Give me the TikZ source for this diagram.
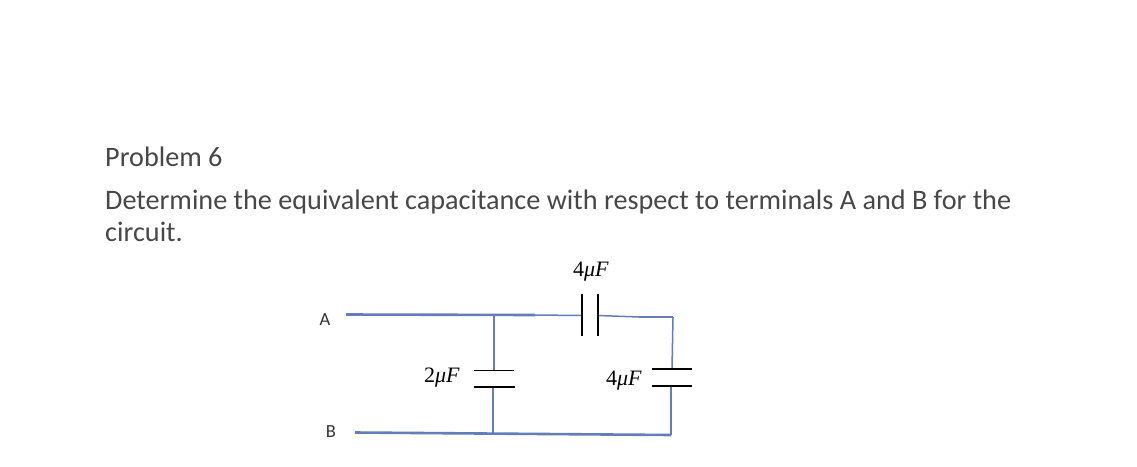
\documentclass[tikz,border=0pt]{standalone}
\usepackage{fontspec}
\setmainfont{Carlito}
\newfontfamily\valfont{Liberation Serif}
\definecolor{wireblue}{RGB}{98,125,184}
\tikzset{
  heading/.style={anchor=base west,inner sep=0pt,font=\fontsize{28.2}{32}\selectfont,text=black!72},
  terminal/.style={inner sep=0pt,font=\fontsize{18.5}{20}\selectfont,text=black!80},
  capval/.style={inner sep=0pt,font=\valfont\fontsize{22}{24}\selectfont},
  wire/.style={draw=wireblue,line width=1.5pt},
  thickwire/.style={draw=wireblue,line width=2.6pt},
  plate/.style={draw=black,line width=1.8pt}
}
\begin{document}
\begin{tikzpicture}[x=1pt,y=-1pt]
\useasboundingbox (0,0) rectangle (1137,466);
\fill[white] (0,0) rectangle (1137,466);
\node[heading] (title) at (105,166) {Problem 6};
\node[heading] (line1) at (105,209) {Determine the equivalent capacitance with respect to terminals A and B for the};
\node[heading] (line2) at (105,241) {circuit.};
\node[terminal] (A) at (325,320) {A};
\node[terminal] (B) at (331,432) {B};
\node[capval] (c1) at (591,272) {4\textit{μF}};
\node[capval] (c2) at (442,378) {2\textit{μF}};
\node[capval] (c3) at (624,381) {4\textit{μF}};
% named points
\coordinate (a0) at (346,314.5);
\coordinate (a1) at (535,315);
\coordinate (j1) at (494,315);
\coordinate (p1) at (582,315.5);
\coordinate (p2) at (598,315.5);
\coordinate (r0) at (639,317);
\coordinate (r1) at (673,317);
\coordinate (r2) at (672,368.5);
\coordinate (r3) at (671,386);
\coordinate (r4) at (671,435);
\coordinate (b0) at (355,432.5);
\coordinate (j2) at (493,433.5);
\coordinate (l1) at (494,370.5);
\coordinate (l2) at (493,387);
% wires
\draw[thickwire] (a0) -- (a1);
\draw[wire] (a1) -- (p1);
\draw[wire] (p2) -- (r0);
\draw[thickwire] (r0) -- (r1);
\draw[wire] (r1) -- (r2);
\draw[wire] (r3) -- (r4);
\draw[thickwire] (b0) -- (r4);
\draw[wire] (j1) -- (l1);
\draw[wire] (l2) -- (j2);
% plates
\draw[plate] (582,294) -- (582,336);
\draw[plate] (598,294) -- (598,336);
\draw[plate] (474,370.5) -- (514,370.5);
\draw[plate] (474,387) -- (515,387);
\draw[plate] (652,369) -- (692,369);
\draw[plate] (652,386) -- (692,386);
\end{tikzpicture}
\end{document}
